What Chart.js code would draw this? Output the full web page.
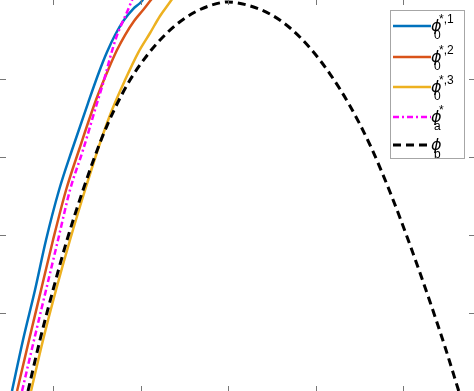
<!DOCTYPE html>
<html>
<head>
<meta charset="utf-8">
<script src="https://cdn.jsdelivr.net/npm/chart.js@4.4.1/dist/chart.umd.min.js"></script>
<style>
  html, body { margin: 0; padding: 0; background: #fff; }
  #wrap { width: 474px; height: 391px; }
</style>
</head>
<body>
<div id="wrap"><canvas id="myChart" width="474" height="391"></canvas></div>
<script>
// curves (x, y in axis units)
var phi01X = [0.531, 0.657, 0.794, 0.920, 1.069, 1.217, 1.400, 1.526, 1.617, 1.709, 1.811, 1.914, 2.006, 2.063];
var phi01Y = [0.000, 0.654, 1.295, 1.936, 2.577, 3.090, 3.692, 4.090, 4.346, 4.564, 4.756, 4.897, 4.987, 5.077];

var phi02X = [0.589, 0.726, 0.863, 1.000, 1.149, 1.297, 1.491, 1.629, 1.731, 1.823, 1.926, 2.029, 2.109, 2.166];
var phi02Y = [0.000, 0.654, 1.295, 1.936, 2.577, 3.090, 3.731, 4.115, 4.372, 4.564, 4.744, 4.885, 5.000, 5.077];

var phi03X = [0.749, 0.886, 1.034, 1.194, 1.366, 1.549, 1.674, 1.823, 1.971, 2.109, 2.223, 2.337, 2.394];
var phi03Y = [0.000, 0.654, 1.295, 1.936, 2.577, 3.218, 3.603, 3.987, 4.333, 4.590, 4.808, 4.987, 5.077];

var phiAX = [0.646, 0.783, 0.920, 1.057, 1.194, 1.343, 1.503, 1.583, 1.651, 1.720, 1.789, 1.846, 1.903, 1.926];
var phiAY = [0.000, 0.654, 1.295, 1.936, 2.577, 3.090, 3.692, 3.987, 4.269, 4.526, 4.718, 4.859, 5.013, 5.077];

var phiBX = [0.714, 0.851, 1.000, 1.160, 1.343, 1.549, 1.709, 1.880, 2.051, 2.223, 2.417, 2.623, 2.817, 2.989,
             3.217, 3.480, 3.709, 3.937, 4.166, 4.394, 4.623, 4.851, 5.080, 5.309, 5.480, 5.640];
var phiBY = [0.000, 0.654, 1.295, 1.936, 2.577, 3.218, 3.628, 3.987, 4.269, 4.500, 4.705, 4.859, 4.949, 4.987,
             4.949, 4.833, 4.654, 4.397, 4.064, 3.654, 3.154, 2.551, 1.872, 1.141, 0.564, -0.013];

var xTicks = [1, 2, 3, 4, 5];
var yTicks = [1, 2, 3, 4];

var legendSub = ['0', '0', '0', 'a', 'b'];
var legendSup = ['*,1', '*,2', '*,3', '*', ''];

function pts(xs, ys) {
  return xs.map(function (x, i) { return { x: x, y: ys[i] }; });
}

// MATLAB style inward tick marks on all four sides
var tickMarks = {
  id: 'tickMarks',
  afterDraw: function (chart) {
    var ctx = chart.ctx, a = chart.chartArea;
    var xs = chart.scales.x, ys = chart.scales.y;
    ctx.save();
    ctx.strokeStyle = '#777';
    ctx.lineWidth = 1;
    ctx.beginPath();
    xTicks.forEach(function (v) {
      var px = Math.round(xs.getPixelForValue(v)) + 0.5;
      ctx.moveTo(px, a.bottom); ctx.lineTo(px, a.bottom - 5);
      ctx.moveTo(px, a.top); ctx.lineTo(px, a.top + 5);
    });
    yTicks.forEach(function (v) {
      var py = Math.round(ys.getPixelForValue(v)) + 0.5;
      ctx.moveTo(a.left, py); ctx.lineTo(a.left + 6, py);
      ctx.moveTo(a.right, py); ctx.lineTo(a.right - 5, py);
    });
    ctx.stroke();
    ctx.restore();
  }
};

// legend box with sub/superscripts
var texLegend = {
  id: 'texLegend',
  afterDraw: function (chart) {
    var ctx = chart.ctx;
    var bx = 390.5, by = 10.5, bw = 74, bh = 148;
    ctx.save();
    ctx.fillStyle = '#fff';
    ctx.fillRect(bx, by, bw, bh);
    ctx.strokeStyle = '#a6a6a6';
    ctx.lineWidth = 1;
    ctx.strokeRect(bx, by, bw, bh);
    var rows = [26, 57, 87, 117, 145];
    chart.data.datasets.forEach(function (ds, i) {
      var y = rows[i];
      ctx.strokeStyle = ds.borderColor;
      ctx.lineWidth = ds.borderWidth;
      ctx.setLineDash(ds.borderDash || []);
      ctx.beginPath();
      ctx.moveTo(393, y); ctx.lineTo(431, y);
      ctx.stroke();
      ctx.setLineDash([]);
      ctx.fillStyle = '#000';
      ctx.textBaseline = 'alphabetic';
      ctx.font = 'italic 16px "DejaVu Sans", sans-serif';
      ctx.fillText('\u03d5', 431, y + 5);
      ctx.font = '12px "Liberation Sans", Arial, sans-serif';
      ctx.fillText(legendSub[i], 434, y + 13);
      if (legendSup[i]) ctx.fillText(legendSup[i], 439, y - 3);
    });
    ctx.restore();
  }
};

new Chart('myChart', {
  type: 'line',
  data: {
    datasets: [
      { data: pts(phi01X, phi01Y), borderColor: '#0072BD', borderWidth: 2.5, order: 5 },
      { data: pts(phi02X, phi02Y), borderColor: '#D95319', borderWidth: 2.5, order: 4 },
      { data: pts(phi03X, phi03Y), borderColor: '#EDB120', borderWidth: 2.5, order: 3 },
      { data: pts(phiAX, phiAY), borderColor: '#FF00FF', borderWidth: 2.5, borderDash: [6, 3, 2, 3], order: 2 },
      { data: pts(phiBX, phiBY), borderColor: '#000000', borderWidth: 3, borderDash: [8, 5], order: 1 }
    ]
  },
  options: {
    responsive: false,
    animation: false,
    layout: { padding: 0 },
    elements: { point: { radius: 0 }, line: { cubicInterpolationMode: 'monotone', fill: false } },
    plugins: { legend: { display: false }, tooltip: { enabled: false } },
    scales: {
      x: { type: 'linear', min: 0.394, max: 5.811, display: false },
      y: { type: 'linear', min: 0, max: 5.013, display: false }
    }
  },
  plugins: [tickMarks, texLegend]
});
</script>
</body>
</html>
